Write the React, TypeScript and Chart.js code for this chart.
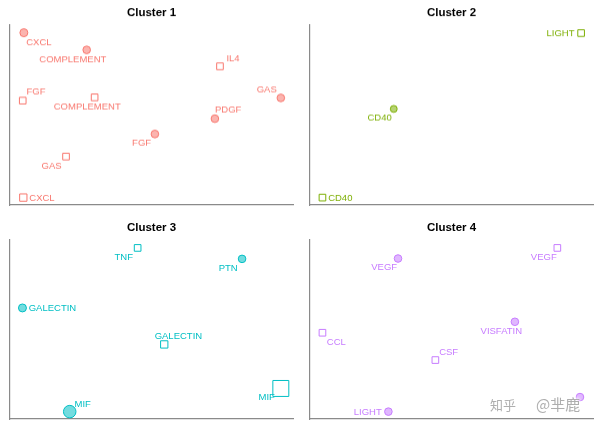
import React, { useEffect, useRef } from "react";
import { Chart, registerables } from "chart.js";

Chart.register(...registerables);

const clusterTitles = ["Cluster 1", "Cluster 2", "Cluster 3", "Cluster 4"];
const clusterColors = ["#F8766D", "#7CAE00", "#00BFC4", "#C77CFF"];
const clusterFills = [
  "rgba(248,118,109,0.55)",
  "rgba(124,174,0,0.55)",
  "rgba(0,191,196,0.55)",
  "rgba(199,124,255,0.55)",
];

// Cluster 1
const c1Names = ["CXCL", "COMPLEMENT", "IL4", "GAS", "FGF", "COMPLEMENT", "PDGF", "FGF", "GAS", "CXCL"];
const c1Role = ["L", "L", "R", "L", "R", "R", "L", "L", "R", "R"];
const c1X = [0.49, 2.71, 7.42, 9.57, 0.45, 2.99, 7.24, 5.12, 1.98, 0.47];
const c1Y = [9.54, 8.59, 7.68, 5.93, 5.78, 5.96, 4.78, 3.93, 2.68, 0.41];
const c1Weight = [1.05, 1, 1, 1, 1, 1, 1, 1, 1, 1.1];
const c1LabelX = [1.02, 2.22, 7.88, 9.07, 0.92, 2.73, 7.71, 4.65, 1.47, 1.13];
const c1LabelY = [9.02, 8.06, 8.09, 6.37, 6.28, 5.41, 5.26, 3.41, 2.17, 0.35];

// Cluster 2
const c2Names = ["LIGHT", "CD40", "CD40"];
const c2Role = ["R", "L", "R"];
const c2X = [9.58, 2.96, 0.44];
const c2Y = [9.52, 5.32, 0.41];
const c2Weight = [1, 0.9, 1];
const c2LabelX = [8.85, 2.46, 1.07];
const c2LabelY = [9.52, 4.81, 0.39];

// Cluster 3
const c3Names = ["TNF", "PTN", "GALECTIN", "GALECTIN", "MIF", "MIF"];
const c3Role = ["R", "L", "L", "R", "R", "L"];
const c3X = [4.51, 8.2, 0.44, 5.45, 9.57, 2.11];
const c3Y = [9.52, 8.91, 6.18, 4.15, 1.7, 0.41];
const c3Weight = [1, 1, 1.05, 1.1, 2.4, 1.65];
const c3LabelX = [4.02, 7.71, 1.5, 5.95, 9.07, 2.57];
const c3LabelY = [9.0, 8.37, 6.18, 4.61, 1.19, 0.83];

// Cluster 4
const c4Names = ["VEGF", "VEGF", "CCL", "VISFATIN", "CSF", "LIGHT", ""];
const c4Role = ["L", "R", "R", "L", "R", "L", "L"];
const c4X = [3.11, 8.74, 0.44, 7.24, 4.43, 2.77, 9.54];
const c4Y = [8.93, 9.52, 4.8, 5.41, 3.28, 0.41, 1.22];
const c4Weight = [1, 1, 1, 1, 1, 1, 1];
const c4LabelX = [2.62, 8.26, 0.93, 6.76, 4.9, 2.04, 9.54];
const c4LabelY = [8.41, 9.0, 4.28, 4.87, 3.72, 0.35, 1.22];

const FONT = "'Liberation Sans', Arial, Helvetica, sans-serif";

type Cluster = {
  title: string;
  color: string;
  fill: string;
  names: string[];
  role: string[];
  x: number[];
  y: number[];
  weight: number[];
  labelX: number[];
  labelY: number[];
};

const clusters: Cluster[] = [
  { names: c1Names, role: c1Role, x: c1X, y: c1Y, weight: c1Weight, labelX: c1LabelX, labelY: c1LabelY },
  { names: c2Names, role: c2Role, x: c2X, y: c2Y, weight: c2Weight, labelX: c2LabelX, labelY: c2LabelY },
  { names: c3Names, role: c3Role, x: c3X, y: c3Y, weight: c3Weight, labelX: c3LabelX, labelY: c3LabelY },
  { names: c4Names, role: c4Role, x: c4X, y: c4Y, weight: c4Weight, labelX: c4LabelX, labelY: c4LabelY },
].map((c, i) => ({ ...c, title: clusterTitles[i], color: clusterColors[i], fill: clusterFills[i] }));

function makeLabelPlugin(c: Cluster) {
  return {
    id: "pointLabels",
    afterDatasetsDraw(chart: any) {
      const { ctx, scales } = chart;
      const xs = scales.x;
      const ys = scales.y;
      ctx.save();
      ctx.font = `9.5px ${FONT}`;
      ctx.fillStyle = c.color;
      ctx.textAlign = "center";
      ctx.textBaseline = "middle";
      c.names.forEach((n, i) => {
        if (!n) return;
        ctx.fillText(n, xs.getPixelForValue(c.labelX[i]), ys.getPixelForValue(c.labelY[i]));
      });
      ctx.restore();
    },
  };
}

function Panel({ c }: { c: Cluster }) {
  const ref = useRef<HTMLCanvasElement | null>(null);
  useEffect(() => {
    if (!ref.current) return;
    const pts = c.x.map((v, i) => ({ x: v, y: c.y[i] }));
    const styles = c.role.map((r) => (r === "L" ? "circle" : "rect"));
    const radii = c.role.map((r, i) => (r === "L" ? 3.8 : 4.7) * c.weight[i]);
    const bgs = c.role.map((r) => (r === "L" ? c.fill : "rgba(0,0,0,0)"));
    const axis = {
      type: "linear" as const,
      min: 0,
      max: 10,
      ticks: { display: false },
      grid: { display: false, drawTicks: false, tickLength: 0 },
      border: { display: true, color: "#8a8a8a", width: 1.2 },
    };
    const chart = new Chart(ref.current, {
      type: "scatter",
      data: {
        datasets: [
          {
            data: pts,
            pointStyle: styles as any,
            pointRadius: radii,
            pointHoverRadius: radii,
            backgroundColor: bgs,
            borderColor: c.color,
            borderWidth: 1,
            clip: false as any,
          },
        ],
      },
      options: {
        animation: false,
        responsive: true,
        maintainAspectRatio: false,
        events: [],
        layout: { autoPadding: false, padding: { left: 10, right: 7, top: 0, bottom: 10.5 } },
        plugins: {
          legend: { display: false },
          tooltip: { enabled: false },
          title: {
            display: true,
            text: c.title,
            color: "#000",
            font: { size: 11.5, weight: "bold", family: FONT },
            padding: { top: 5.5, bottom: 5 },
          },
        },
        scales: { x: axis, y: axis },
      },
      plugins: [makeLabelPlugin(c)],
    });
    return () => chart.destroy();
  }, [c]);
  return (
    <div style={{ position: "relative", width: 300, height: 214.5 }}>
      <canvas ref={ref} />
    </div>
  );
}

export default function App() {
  const wm = {
    position: "absolute" as const,
    fontFamily: "'Noto Sans CJK SC', sans-serif",
    lineHeight: "18px",
    color: "rgba(165,165,165,0.9)",
    whiteSpace: "pre" as const,
    textShadow: "0 0 2px #fff, 0 0 3px #fff, 0 0 4px #fff",
  };
  return (
    <div
      style={{
        position: "fixed",
        left: 0,
        top: 0,
        width: 600,
        height: 429,
        background: "#fff",
        display: "grid",
        gridTemplateColumns: "300px 300px",
        gridTemplateRows: "214.5px 214.5px",
      }}
    >
      {clusters.map((c, i) => (
        <Panel key={i} c={c} />
      ))}
      <div style={{ ...wm, left: 490, top: 396, fontSize: 13 }}>知乎</div>
      <div style={{ ...wm, left: 536, top: 395, fontSize: 15 }}>@芈鹿</div>
    </div>
  );
}
